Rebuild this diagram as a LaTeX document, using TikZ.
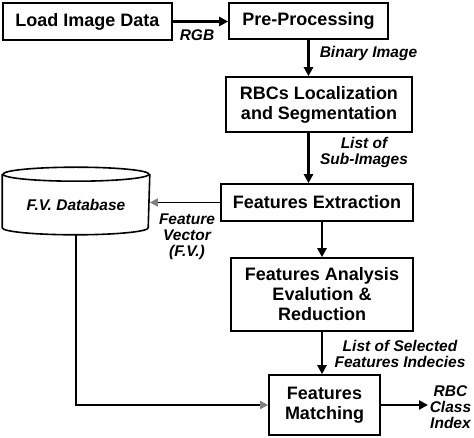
\documentclass[tikz,border=0pt]{standalone}
\usepackage{fontspec}
\setmainfont{Liberation Sans}
\usetikzlibrary{arrows.meta}

\begin{document}
\begin{tikzpicture}[x=1pt, y=-1pt, line width=1.6pt,
  box/.style={draw, align=center, inner sep=2pt, font=\fontsize{18}{20}\selectfont\bfseries},
  lbl/.style={align=center, inner sep=1pt, font=\fontsize{15.5}{16}\selectfont\bfseries\itshape},
  flow/.style={-{Triangle[length=9pt, width=9pt]}, line width=2.6pt},
  fvflow/.style={-{Triangle[length=8pt, width=8pt, color=gray]}, line width=1.6pt}]
\useasboundingbox (0,0) rectangle (474,438);

\node[box, minimum width=169pt, minimum height=37pt] (load) at (87.5, 21.5) {Load Image Data};
\node[box, minimum width=159pt, minimum height=36pt] (pre) at (308.5, 21) {Pre-Processing};
\node[box, minimum width=186pt, minimum height=55pt] (rbc) at (319, 104.5) {RBCs Localization\\and Segmentation};
\node[box, minimum width=192pt, minimum height=37pt] (fext) at (317, 202.5) {Features Extraction};
\node[box, minimum width=182pt, minimum height=73pt] (fana) at (322, 294.5) {Features Analysis\\Evalution \&\\Reduction};
\node[box, minimum width=111pt, minimum height=60pt] (fmatch) at (324.5, 405) {Features\\Matching};

% database drum
\node[lbl, minimum width=146pt, minimum height=58pt] (db) at (76, 205) {F.V. Database};
\draw ([yshift=1pt]db.north) ellipse [x radius=73pt, y radius=7pt];
\draw ([yshift=1pt]db.north west) -- ([yshift=7pt]db.south west)
  arc [start angle=180, end angle=360, x radius=73pt, y radius=7pt] -- ([yshift=1pt]db.north east);

\node[lbl] (rgb) at (197, 35) {RGB};
\node[lbl, anchor=west] (bin) at (318, 53) {Binary Image};
\node[lbl] (subimg) at (364, 152.5) {List of\\Sub-Images};
\node[lbl] (fv) at (187, 237) {Feature\\Vector\\(F.V.)};
\node[lbl] (sel) at (400, 353.5) {List of Selected\\Features Indecies};
\node[lbl, anchor=west] (cls) at (428, 407) {RBC\\Class\\Index};

\draw[flow] (load.east) -- (load.east -| pre.west);
\draw[flow] (pre.south) -- (pre.south |- rbc.north);
\draw[flow] (rbc.south -| pre.south) -- (fext.north -| pre.south);
\draw[flow] (fana.north |- fext.south) -- (fana.north);
\draw[flow] (fana.south) -- (fana.south |- fmatch.north);
\draw[flow] (fmatch.east) -- (fmatch.east -| cls.west);

\draw[fvflow] (fext.west) -- (fext.west -| db.east);
\draw[fvflow] (db.south) |- (fmatch.west);

\end{tikzpicture}
\end{document}
